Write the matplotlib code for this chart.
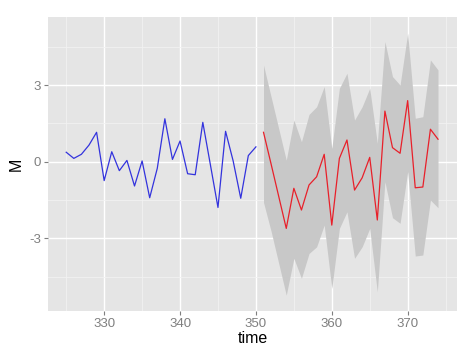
import numpy as np
import matplotlib.pyplot as plt

plt.rcParams["font.family"] = ["Liberation Sans", "DejaVu Sans"]
plt.rcParams["axes.unicode_minus"] = False

# observed series
time_obs = list(range(325, 351))
m_obs = [0.37, 0.13, 0.29, 0.65, 1.15, -0.74, 0.39, -0.35, 0.05, -0.95,
         0.03, -1.41, -0.26, 1.68, 0.09, 0.81, -0.47, -0.51, 1.54, -0.12,
         -1.79, 1.19, 0.03, -1.43, 0.24, 0.58]

# forecast series with band
time_fc = list(range(351, 375))
m_fc = [1.15, -0.09, -1.35, -2.61, -1.04, -1.89, -0.91, -0.59, 0.29, -2.48,
        0.13, 0.85, -1.11, -0.63, 0.17, -2.28, 1.98, 0.55, 0.33, 2.39,
        -1.02, -0.99, 1.27, 0.88]
m_hi = [3.78, 2.54, 1.30, 0.06, 1.63, 0.78, 1.85, 2.15, 2.94, 0.52,
        2.87, 3.46, 1.63, 2.15, 2.87, 0.72, 4.70, 3.33, 3.00, 5.03,
        1.70, 1.76, 3.98, 3.59]
m_lo = [-1.59, -2.72, -3.97, -5.22, -3.78, -4.56, -3.59, -3.33, -2.48, -4.96,
        -2.61, -1.96, -3.78, -3.33, -2.61, -5.09, -0.78, -2.19, -2.41, -0.39,
        -3.69, -3.65, -1.50, -1.80]

fig = plt.figure(figsize=(4.74, 3.59), dpi=100)
ax = fig.add_axes([0.1013, 0.1337, 0.8628, 0.8189])
ax.set_facecolor("#E5E5E5")

ax.fill_between(time_fc, m_lo, m_hi, color="#C8C8C8", linewidth=0, zorder=2)
ax.plot(time_obs, m_obs, color="#3333DD", linewidth=0.9, zorder=3)
ax.plot(time_fc, m_fc, color="#E8202A", linewidth=0.9, zorder=3)

ax.set_xlim(322.6, 376.5)
ax.set_ylim(-5.84, 5.66)
ax.set_xticks([330, 340, 350, 360, 370])
ax.set_yticks([-3, 0, 3])
ax.set_xticks([325, 335, 345, 355, 365, 375], minor=True)
ax.set_yticks([-4.5, -1.5, 1.5, 4.5], minor=True)
ax.grid(True, which="major", color="white", linewidth=1.0, zorder=1)
ax.grid(True, which="minor", color="#F2F2F2", linewidth=0.6, zorder=1)
ax.set_axisbelow(True)

for s in ax.spines.values():
    s.set_visible(False)
ax.tick_params(which="major", length=3, width=0.8, color="#7F7F7F",
               labelcolor="#7F7F7F", labelsize=9.5, pad=2)
ax.tick_params(which="minor", length=0)

ax.set_xlabel("time", fontsize=11.5, labelpad=1)
ax.set_ylabel("M", fontsize=11.5, labelpad=4)

plt.savefig("out.png", dpi=100)
